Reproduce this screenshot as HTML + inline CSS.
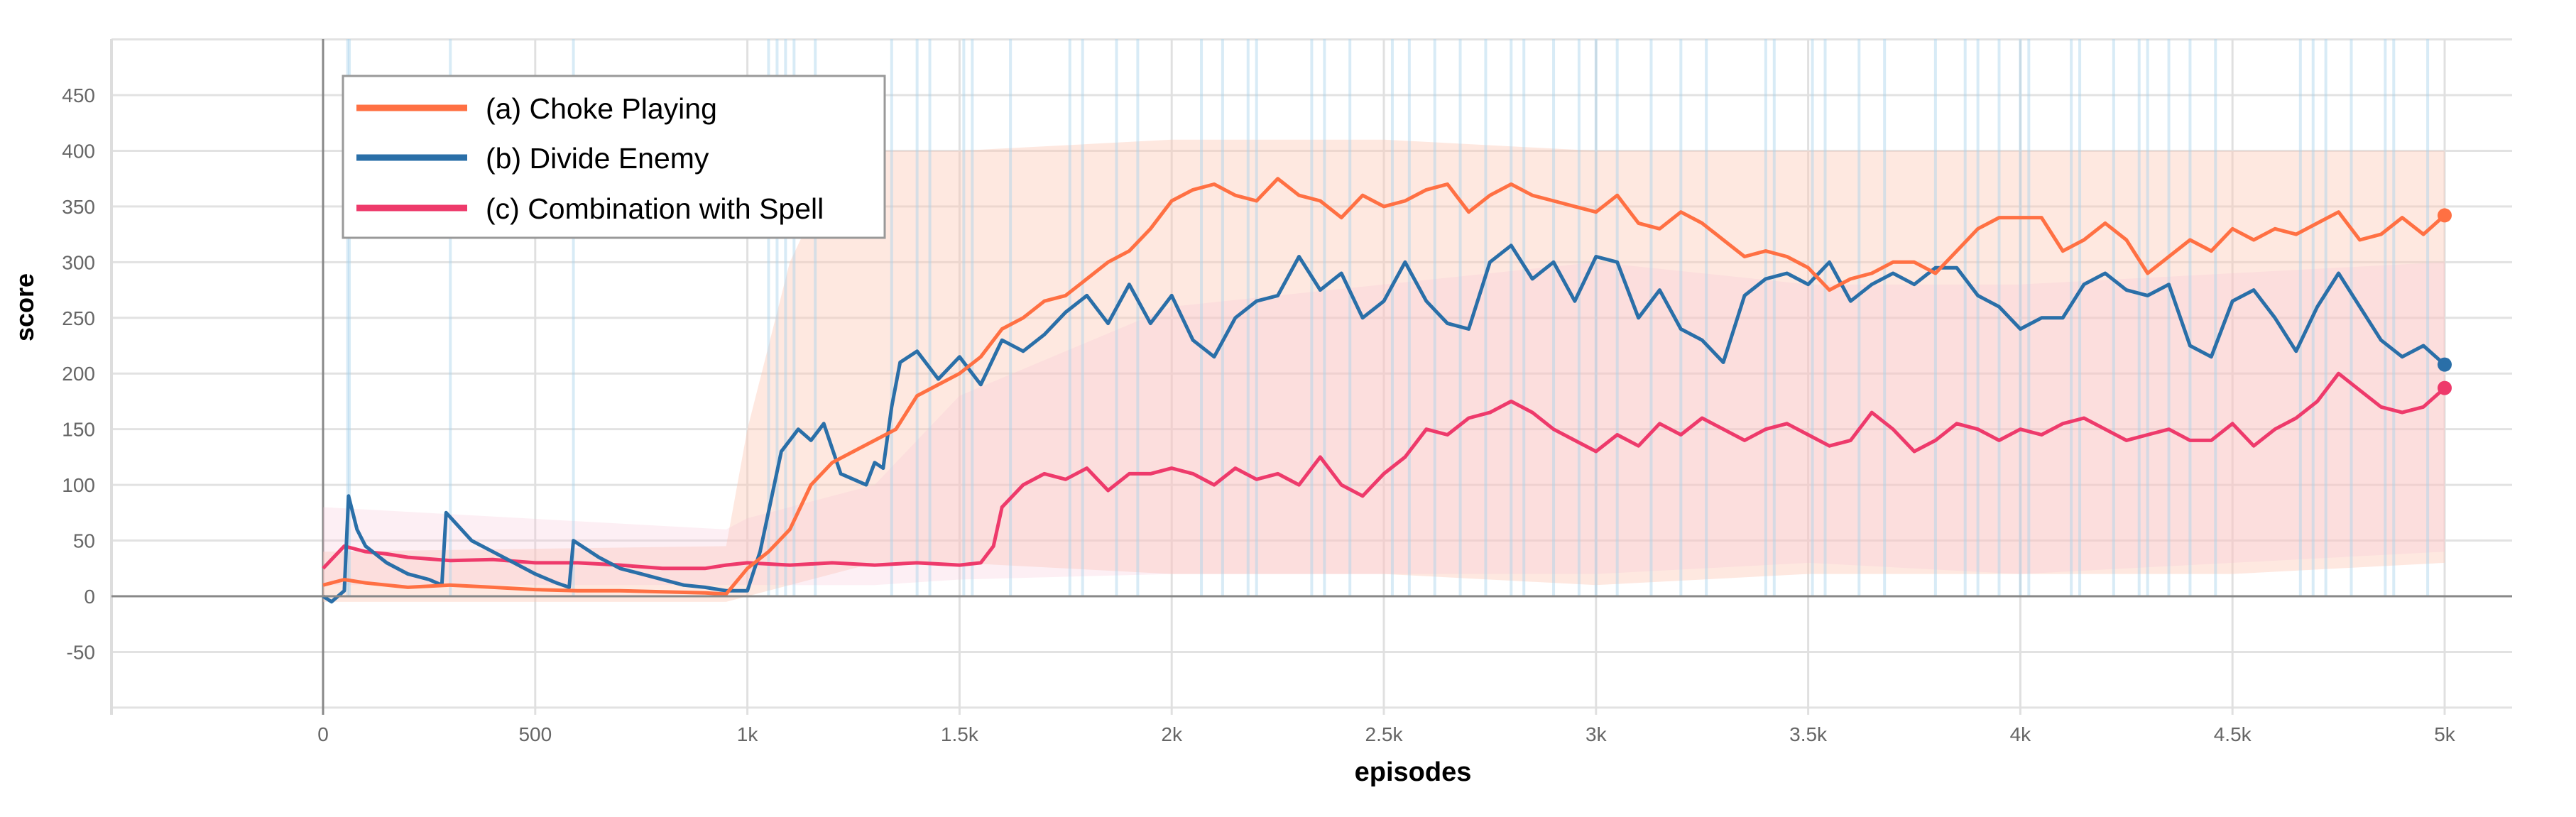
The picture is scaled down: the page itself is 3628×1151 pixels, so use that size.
<!DOCTYPE html>
<html><head><meta charset="utf-8">
<style>
html,body{margin:0;padding:0;background:#fff;}
svg{display:block;font-family:"Liberation Sans","Noto Sans CJK KR",sans-serif;}
</style></head>
<body>
<svg id="chart" width="3628" height="1151" viewBox="0 0 3628 1151">
  <g id="grid"></g>
  <g id="raw"></g>
  <g id="lines"></g>
  <g id="axes"></g>
  <text x="47" y="433" transform="rotate(-90 47 433)" text-anchor="middle" font-size="36" font-weight="bold" fill="#000">score</text>
  <text x="1990" y="1100" text-anchor="middle" font-size="38" font-weight="bold" fill="#000">episodes</text>
  <g>
    <rect x="483" y="107" width="763" height="228" fill="#fff" stroke="#999" stroke-width="3"/>
    <g>
      <line x1="502" y1="152" x2="658" y2="152" stroke="#ff7043" stroke-width="9"/>
      <text x="684" y="167" font-size="41" fill="#000">(a) Choke Playing</text>
    </g>
    <g>
      <line x1="502" y1="222" x2="658" y2="222" stroke="#2a6fa8" stroke-width="9"/>
      <text x="684" y="237" font-size="41" fill="#000">(b) Divide Enemy</text>
    </g>
    <g>
      <line x1="502" y1="293" x2="658" y2="293" stroke="#ee3a6b" stroke-width="9"/>
      <text x="684" y="308" font-size="41" fill="#000">(c) Combination with Spell</text>
    </g>
  </g>
</svg>
<script>
const xTicks = [0, 500, 1000, 1500, 2000, 2500, 3000, 3500, 4000, 4500, 5000];
const xTickLabels = ["0", "500", "1k", "1.5k", "2k", "2.5k", "3k", "3.5k", "4k", "4.5k", "5k"];
const yTicks = [-50, 0, 50, 100, 150, 200, 250, 300, 350, 400, 450];

const chokeEp = [0,50,100,200,300,400,500,600,700,800,900,950,1000,1050,1100,1150,1200,1250,1300,1350,1400,1450,1500,1550,1600,1650,1700,1750,1800,1850,1900,1950,2000,2050,2100,2150,2200,2250,2300,2350,2400,2450,2500,2550,2600,2650,2700,2750,2800,2850,2900,2950,3000,3050,3100,3150,3200,3250,3300,3350,3400,3450,3500,3550,3600,3650,3700,3750,3800,3850,3900,3950,4000,4050,4100,4150,4200,4250,4300,4350,4400,4450,4500,4550,4600,4650,4700,4750,4800,4850,4900,4950,5000];
const chokeVal = [10,15,12,8,10,8,6,5,5,4,3,2,25,40,60,100,120,130,140,150,180,190,200,215,240,250,265,270,285,300,310,330,355,365,370,360,355,375,360,355,340,360,350,355,365,370,345,360,370,360,355,350,345,360,335,330,345,335,320,305,310,305,295,275,285,290,300,300,290,310,330,340,340,340,310,320,335,320,290,305,320,310,330,320,330,325,335,345,320,325,340,325,342];

const divideEp = [0,20,50,60,80,100,150,200,250,280,290,350,400,450,500,550,580,590,650,700,750,800,850,900,950,1000,1030,1080,1120,1150,1180,1220,1280,1300,1320,1340,1360,1400,1450,1500,1550,1600,1650,1700,1750,1800,1850,1900,1950,2000,2050,2100,2150,2200,2250,2300,2350,2400,2450,2500,2550,2600,2650,2700,2750,2800,2850,2900,2950,3000,3050,3100,3150,3200,3250,3300,3350,3400,3450,3500,3550,3600,3650,3700,3750,3800,3850,3900,3950,4000,4050,4100,4150,4200,4250,4300,4350,4400,4450,4500,4550,4600,4650,4700,4750,4800,4850,4900,4950,5000];
const divideVal = [0,-5,5,90,60,45,30,20,15,10,75,50,40,30,20,12,8,50,35,25,20,15,10,8,5,5,40,130,150,140,155,110,100,120,115,170,210,220,195,215,190,230,220,235,255,270,245,280,245,270,230,215,250,265,270,305,275,290,250,265,300,265,245,240,300,315,285,300,265,305,300,250,275,240,230,210,270,285,290,280,300,265,280,290,280,295,295,270,260,240,250,250,280,290,275,270,280,225,215,265,275,250,220,260,290,260,230,215,225,208];

const spellEp = [0,50,100,150,200,300,400,500,600,700,800,900,950,1000,1100,1200,1300,1400,1500,1550,1580,1600,1650,1700,1750,1800,1850,1900,1950,2000,2050,2100,2150,2200,2250,2300,2350,2400,2450,2500,2550,2600,2650,2700,2750,2800,2850,2900,2950,3000,3050,3100,3150,3200,3250,3300,3350,3400,3450,3500,3550,3600,3650,3700,3750,3800,3850,3900,3950,4000,4050,4100,4150,4200,4250,4300,4350,4400,4450,4500,4550,4600,4650,4700,4750,4800,4850,4900,4950,5000];
const spellVal = [25,45,40,38,35,32,33,30,30,28,25,25,28,30,28,30,28,30,28,30,45,80,100,110,105,115,95,110,110,115,110,100,115,105,110,100,125,100,90,110,125,150,145,160,165,175,165,150,140,130,145,135,155,145,160,150,140,150,155,145,135,140,165,150,130,140,155,150,140,150,145,155,160,150,140,145,150,140,140,155,135,150,160,175,200,185,170,165,170,187];

const rawEnvEp = [0,950,1000,1100,1200,1300,1500,2000,2500,3000,3500,4000,4500,5000];
const chokeRawHi = [40,45,150,300,380,400,400,410,410,400,400,400,400,400];
const chokeRawLo = [-5,-5,0,10,20,30,30,20,20,10,20,20,20,30];
const spellRawHi = [80,60,70,80,90,100,180,260,280,300,280,280,290,300];
const spellRawLo = [10,10,10,10,10,10,15,20,20,20,30,20,30,40];
const blueSpikeEp = [58,62,300,590,1050,1070,1090,1110,1160,1340,1400,1430,1510,1530,1620,1760,1790,1870,1920,2070,2120,2180,2200,2330,2360,2420,2520,2560,2620,2680,2740,2800,2830,2900,2960,3000,3050,3130,3200,3260,3400,3420,3510,3540,3620,3680,3800,3870,3900,3950,4000,4020,4120,4140,4220,4280,4300,4350,4400,4460,4660,4690,4720,4780,4860,4880,4960];

const X0 = 455, PX_PER_EP = 0.5976;
const Y0 = 840, PX_PER_UNIT = 1.5689;
const PLOT_L = 157, PLOT_R = 3538, PLOT_T = 55, PLOT_B = 997;
const xS = v => X0 + v * PX_PER_EP;
const yS = v => Math.max(PLOT_T, Y0 - v * PX_PER_UNIT);
const NS = "http://www.w3.org/2000/svg";
function mk(tag, attrs, parent) {
  const el = document.createElementNS(NS, tag);
  for (const k in attrs) el.setAttribute(k, attrs[k]);
  parent.appendChild(el);
  return el;
}
const grid = document.getElementById('grid');
const axes = document.getElementById('axes');
const raw = document.getElementById('raw');
const lines = document.getElementById('lines');

for (const t of yTicks.concat([500, -100])) {
  const ln = mk('line', {x1: PLOT_L, x2: PLOT_R, y1: Y0 - t * PX_PER_UNIT, y2: Y0 - t * PX_PER_UNIT, stroke: '#e2e2e2', 'stroke-width': 3}, grid);
  
  
}
for (const t of yTicks) {
  const lb = mk('text', {x: 134, y: Y0 - t * PX_PER_UNIT + 10, 'text-anchor': 'end', 'font-size': 28, fill: '#666'}, axes);
  lb.textContent = t;
  
  
}
xTicks.forEach((t, i) => {
  const ln = mk('line', {x1: xS(t), x2: xS(t), y1: PLOT_T, y2: PLOT_B + 10, stroke: t === 0 ? '#888' : '#e0e0e0', 'stroke-width': 3}, grid);
  
  
  const lb = mk('text', {x: xS(t), y: 1044, 'text-anchor': 'middle', 'font-size': 28, fill: '#666'}, axes);
  lb.textContent = xTickLabels[i];
  
  
});
const la = mk('line', {x1: PLOT_L, x2: PLOT_L, y1: PLOT_T, y2: PLOT_B + 10, stroke: '#ddd', 'stroke-width': 4}, axes);


const zl = mk('line', {x1: PLOT_L, x2: PLOT_R, y1: Y0, y2: Y0, stroke: '#888', 'stroke-width': 3}, axes);



function env(hi, lo, color, op, name) {
  let d = rawEnvEp.map((e, i) => (i ? 'L' : 'M') + xS(e) + ',' + yS(hi[i])).join('');
  for (let i = rawEnvEp.length - 1; i >= 0; i--) d += 'L' + xS(rawEnvEp[i]) + ',' + yS(lo[i]);
  const p = mk('path', {d: d + 'Z', fill: color, 'fill-opacity': op}, raw);
  
  
}
env(chokeRawHi, chokeRawLo, '#fcc9b5', 0.42, 'choke-raw-band');
env(spellRawHi, spellRawLo, '#f9c0d2', 0.25, 'spell-raw-band');
for (const e of blueSpikeEp) {
  const s = mk('line', {x1: xS(e), x2: xS(e), y1: PLOT_T, y2: yS(0), stroke: '#a9d2ea', 'stroke-width': 4, 'stroke-opacity': 0.45}, raw);
  
  
}

function series(ep, val, color, name) {
  const d = ep.map((e, i) => (i ? 'L' : 'M') + xS(e).toFixed(1) + ',' + yS(val[i]).toFixed(1)).join('');
  const p = mk('path', {d: d, fill: 'none', stroke: color, 'stroke-width': 5, 'stroke-linejoin': 'round'}, lines);
  
  
  const n = ep.length - 1;
  const c = mk('circle', {cx: xS(ep[n]), cy: yS(val[n]), r: 10, fill: color}, lines);
  
  
}
series(spellEp, spellVal, '#ee3a6b', 'spell');
series(divideEp, divideVal, '#2a6fa8', 'divide');
series(chokeEp, chokeVal, '#ff7043', 'choke');
</script>
</body></html>
